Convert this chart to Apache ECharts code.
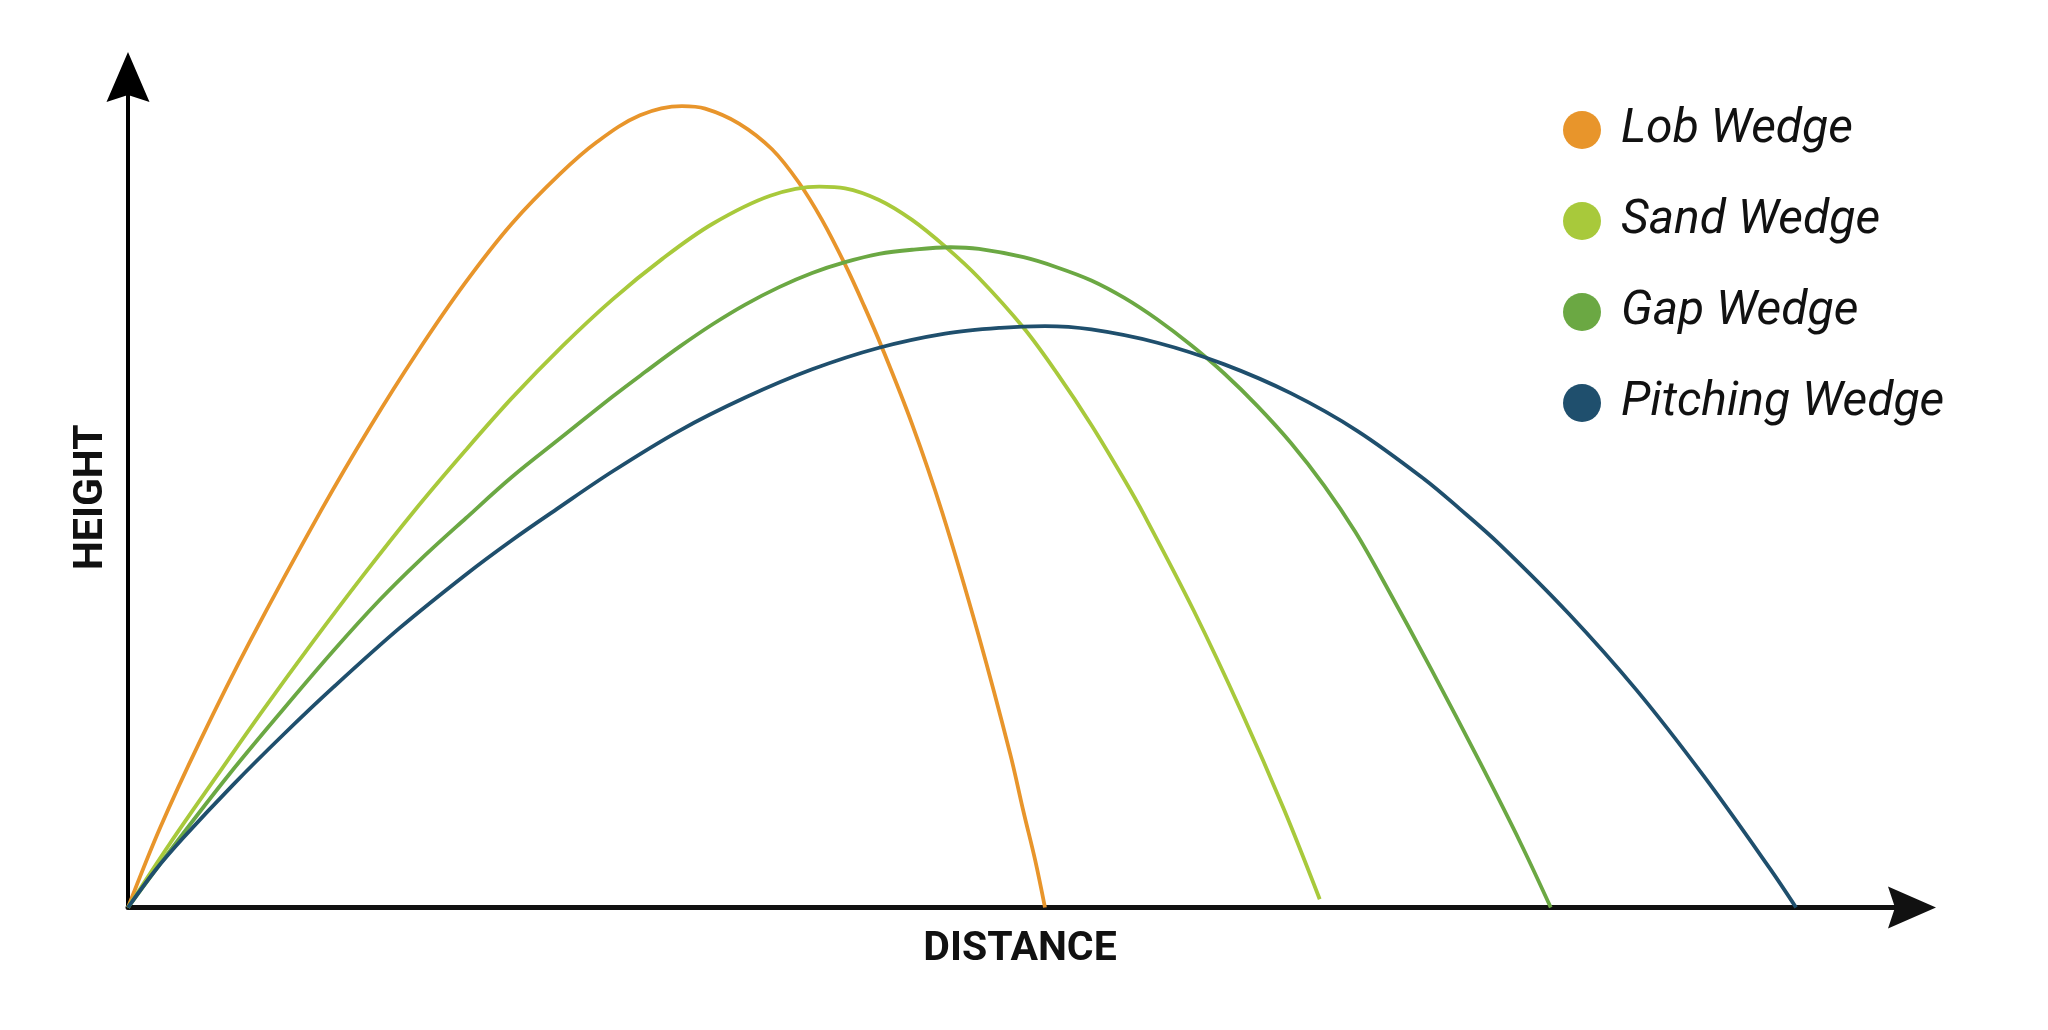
<!DOCTYPE html>
<html>
<head>
<meta charset="utf-8">
<script src="https://cdn.jsdelivr.net/npm/echarts@6/dist/echarts.min.js"></script>
<style>
  html, body { margin: 0; padding: 0; background: #ffffff; }
  #chart { width: 2048px; height: 1030px; }
</style>
</head>
<body>
<div id="chart"></div>
<script>
// Series names (legend order)
const seriesNames = ['Lob Wedge', 'Sand Wedge', 'Gap Wedge', 'Pitching Wedge'];
const seriesColors = ['#E8952B', '#A8C93B', '#6BA843', '#1F4F6D'];

// Axis titles
const xTitle = 'DISTANCE';
const yTitle = 'HEIGHT';

// Lob Wedge trajectory (distance, height)
const lobX = [0, 3.6, 8.1, 13.7, 21.7, 27.1, 32.4, 37.8, 43.0, 48.4, 52.6, 57.4, 62.1, 64.7, 68.5, 72.2, 75.2, 77.8, 80.4, 82.5, 84.5, 87.9, 91.3, 95.4, 98.9, 100.4, 101.7, 102.8];
const lobY = [0, 9.6, 20.1, 32.1, 47.9, 57.8, 66.8, 75.2, 82.3, 88.3, 92.2, 95.4, 96.5, 96.2, 94.4, 91.3, 87.3, 82.8, 77.4, 72.5, 67.5, 58.2, 47.5, 32.6, 18.5, 11.5, 5.7, 0];

// Sand Wedge
const sandX = [0, 4.7, 10.0, 15.1, 20.6, 26.3, 32.2, 37.8, 43.0, 48.7, 54.3, 59.9, 65.5, 72.0, 77.5, 80.4, 84.2, 87.9, 91.6, 95.4, 100.4, 104.1, 108.0, 111.7, 113.9, 119.5, 124.9, 129.6, 133.6];
const sandY = [0, 7.7, 15.9, 23.7, 31.8, 39.9, 47.9, 55.0, 61.3, 67.6, 73.2, 78.1, 82.3, 85.7, 86.8, 86.6, 85.2, 82.8, 79.6, 75.8, 69.8, 64.4, 58.1, 51.5, 47.3, 35.7, 23.4, 11.8, 1.0];

// Gap Wedge
const gapX = [0, 5.4, 11.4, 17.2, 23.1, 28.1, 32.7, 37.9, 43.0, 48.7, 54.3, 58.0, 61.8, 65.5, 69.2, 73.0, 76.7, 80.4, 84.2, 87.9, 92.2, 95.4, 100.4, 104.1, 108.0, 111.7, 115.4, 119.2, 122.9, 126.6, 130.4, 134.1, 137.6, 141.0, 146.2, 151.6, 156.1, 159.5];
const gapY = [0, 7.8, 16.1, 23.6, 31.0, 36.9, 41.8, 46.9, 51.8, 56.7, 61.5, 64.5, 67.5, 70.2, 72.6, 74.7, 76.4, 77.7, 78.7, 79.2, 79.5, 79.3, 78.3, 77.1, 75.5, 73.4, 70.8, 67.7, 64.3, 60.4, 55.9, 50.8, 45.2, 38.8, 28.5, 17.4, 7.8, 0];

// Pitching Wedge
const pitchX = [0, 3.0, 6.2, 11.8, 17.4, 23.0, 30.5, 38.0, 43.0, 48.1, 54.3, 61.8, 69.2, 76.7, 84.2, 91.6, 97.8, 102.8, 108.0, 115.4, 122.9, 130.4, 137.8, 145.3, 149.3, 153.8, 161.5, 169.1, 176.6, 184.0, 187.0];
const pitchY = [0, 4.4, 8.4, 14.8, 20.8, 26.5, 33.7, 40.2, 44.2, 48.0, 52.5, 57.4, 61.4, 64.8, 67.4, 69.1, 69.8, 70.0, 69.6, 68.0, 65.4, 61.9, 57.4, 51.6, 48.0, 43.7, 35.4, 26.2, 15.9, 4.8, 0];

// Axis ranges
const xMax = 200;
const yMax = 100;

const allX = [lobX, sandX, gapX, pitchX];
const allY = [lobY, sandY, gapY, pitchY];

const chart = echarts.init(document.getElementById('chart'), null, { renderer: 'canvas' });

const series = seriesNames.map(function (name, k) {
  return {
    name: name,
    type: 'line',
    data: allX[k].map(function (x, i) { return [x, allY[k][i]]; }),
    showSymbol: false,
    symbol: 'none',
    smooth: 0.35,
    clip: false,
    lineStyle: { color: seriesColors[k], width: 3.8 },
    itemStyle: { color: seriesColors[k] },
    z: 3
  };
});

chart.setOption({
  animation: false,
  backgroundColor: '#ffffff',
  grid: {
    left: 128,
    right: 136,
    top: 77,
    bottom: 122.5,
    containLabel: false,
    outerBoundsMode: 'none'
  },
  legend: {
    data: seriesNames.map(function (n) { return { name: n, icon: 'circle' }; }),
    orient: 'vertical',
    left: 1563,
    top: 106,
    padding: 0,
    itemWidth: 38,
    itemHeight: 38,
    itemGap: 43,
    selectedMode: false,
    textStyle: {
      fontFamily: 'Roboto',
      fontStyle: 'italic',
      fontSize: 48,
      lineHeight: 38,
      color: '#111111',
      padding: [0, 0, 0, 15]
    }
  },
  xAxis: {
    type: 'value',
    min: 0,
    max: xMax,
    name: xTitle,
    nameLocation: 'middle',
    nameGap: 22,
    nameTextStyle: {
      fontFamily: 'Roboto',
      fontWeight: 'bold',
      fontSize: 41,
      lineHeight: 41,
      color: '#111111'
    },
    axisLine: {
      show: true,
      onZero: false,
      symbol: ['none', 'path://M0,-48 L21,0 L0,-7 L-21,0 Z'],
      symbolSize: [42, 48],
      lineStyle: { color: '#111111', width: 5 }
    },
    axisTick: { show: false },
    axisLabel: { show: false },
    splitLine: { show: false }
  },
  yAxis: {
    type: 'value',
    min: 0,
    max: yMax,
    name: yTitle,
    nameLocation: 'middle',
    nameRotate: 90,
    nameGap: 16,
    nameTextStyle: {
      fontFamily: 'Roboto',
      fontWeight: 'bold',
      fontSize: 41,
      lineHeight: 41,
      color: '#111111',
      padding: [0, 10, 0, 0]
    },
    axisLine: {
      show: true,
      onZero: false,
      symbol: ['none', 'path://M0,-50 L21.5,0 L0,-7 L-21.5,0 Z'],
      symbolSize: [43, 50],
      lineStyle: { color: '#000000', width: 4 }
    },
    axisTick: { show: false },
    axisLabel: { show: false },
    splitLine: { show: false }
  },
  series: series
});
</script>
</body>
</html>
